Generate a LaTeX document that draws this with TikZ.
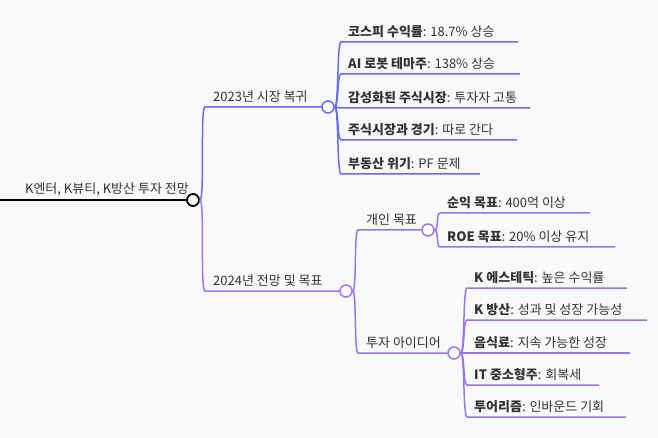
\documentclass[tikz,border=0pt]{standalone}
\usepackage{fontspec}
\setmainfont{Noto Sans CJK KR}
\usetikzlibrary{positioning}
\definecolor{bgc}{HTML}{F8F9FB}
\definecolor{txt}{HTML}{333333}
\definecolor{blu}{HTML}{6A6AF2}
\definecolor{pur}{HTML}{A275F2}
\definecolor{lil}{HTML}{9A74F0}

\begin{document}
\begin{tikzpicture}[x=1pt,y=-1pt,font=\fontsize{13}{15}\selectfont]
  \tikzstyle{dot}=[circle, draw, fill=white, line width=1.5pt, minimum size=12pt, inner sep=0pt]
  \tikzstyle{lbl}=[anchor=south west, inner sep=1pt, text=txt]
  \tikzstyle{link}=[line width=1.5pt]
  \useasboundingbox[fill=bgc] (0,0) rectangle (658,438);
  % root
  \node (r) [dot, draw=black, line width=1.8pt] at (193,200) {};
  \coordinate (r0) at (0,200);
  \draw [line width=2.5pt] (r0) -- (r.west);
  \node [lbl, anchor=south east] at (190,197) {K엔터, K뷰티, K방산 투자 전망};
  % 2023 branch
  \coordinate (a0) at (205,107);
  \node (a) [dot, draw=blu] at (328,107) {};
  \draw [link, blu] (r.east) .. controls +(5,0) and +(-5,0) .. (a0) -- (a.west);
  \node [lbl] at (212,104) {2023년 시장 복귀};
  \foreach \y/\e/\b/\t in {42/518/코스피 수익률/18.7\% 상승, 74/520/AI 로봇 테마주/138\% 상승,
      108/530/감성화된 주식시장/투자자 고통, 140/517/주식시장과 경기/따로 간다, 174/480/부동산 위기/PF 문제} {
    \coordinate (a\y) at (341,\y);
    \coordinate (ae\y) at (\e,\y);
    \draw [link, blu] (a.east) .. controls +(4,0) and +(-4,0) .. (a\y) -- (ae\y);
    \node [lbl] at (347,\y-3) {\textbf{\b}: \t};
  }
  % 2024 branch
  \coordinate (b0) at (205,291);
  \node (b) [dot, draw=pur] at (346,291) {};
  \draw [link, pur] (r.east) .. controls +(5,0) and +(-5,0) .. (b0) -- (b.west);
  \node [lbl] at (212,288) {2024년 전망 및 목표};
  % personal goals
  \coordinate (c0) at (358,230);
  \node (c) [dot, draw=lil] at (428,230) {};
  \draw [link, lil] (b.east) .. controls +(4,0) and +(-4,0) .. (c0) -- (c.west);
  \node [lbl] at (365,227) {개인 목표};
  \foreach \y/\e/\b/\t in {213/590/순익 목표/400억 이상, 247/615/ROE 목표/20\% 이상 유지} {
    \coordinate (c\y) at (440,\y);
    \coordinate (ce\y) at (\e,\y);
    \draw [link, lil] (c.east) .. controls +(4,0) and +(-4,0) .. (c\y) -- (ce\y);
    \node [lbl] at (446,\y-3) {\textbf{\b}: \t};
  }
  % investment ideas
  \coordinate (d0) at (358,353);
  \node (d) [dot, draw=lil] at (454,353) {};
  \draw [link, lil] (b.east) .. controls +(4,0) and +(-4,0) .. (d0) -- (d.west);
  \node [lbl] at (365,350) {투자 아이디어};
  \foreach \y/\e/\b/\t in {288/627/K 에스테틱/높은 수익률, 320/647/K 방산/성과 및 성장 가능성,
      353/630/음식료/지속 가능한 성장, 385/599/IT 중소형주/회복세, 417/626/투어리즘/인바운드 기회} {
    \coordinate (d\y) at (467,\y);
    \coordinate (de\y) at (\e,\y);
    \draw [link, lil] (d.east) .. controls +(4,0) and +(-4,0) .. (d\y) -- (de\y);
    \node [lbl] at (473,\y-3) {\textbf{\b}: \t};
  }
\end{tikzpicture}
\end{document}
